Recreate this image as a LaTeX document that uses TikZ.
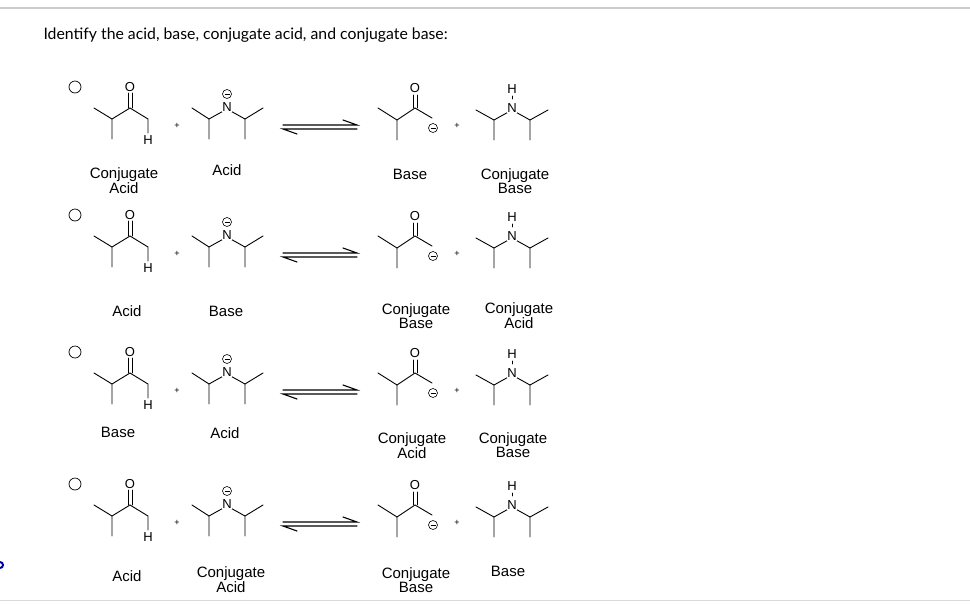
\documentclass[tikz,border=0pt]{standalone}
\usepackage{fontspec}
\setmainfont{Liberation Sans}
\newfontfamily\titlefont{Lato}
\begin{document}
\begin{tikzpicture}[x=1pt,y=-1pt,
  bond/.style={line width=0.9pt,line cap=round},
  atom/.style={inner sep=0.5pt,fill=white,font=\fontsize{13}{13}\selectfont},
  lbl/.style={align=center,font=\fontsize{15}{11.5}\selectfont},
  chg/.style={circle,draw,line width=0.6pt,minimum size=9pt,inner sep=0pt}]
\useasboundingbox (0,0) rectangle (970,603);
\fill[white] (0,0) rectangle (970,603);
\draw[gray!40,line width=1.5pt] (0,8) -- (970,8);
\draw[gray!30,line width=1pt] (0,600) -- (970,600);
\draw[blue!70!black,line width=2pt] (0,568) arc (90:-90:3);
\node[anchor=west,font=\titlefont\fontsize{15.8}{16}\selectfont] (title) at (40,35) {Identify the acid, base, conjugate acid, and conjugate base:};
\newcommand\chgmark[2]{\node[chg] at (#1,#2) {}; \draw[line width=0.6pt] (#1-2.5,#2) -- (#1+2.5,#2);}
\newcommand\mrow[1]{%
\begin{scope}[shift={(0,#1)}]
 \draw[line width=0.7pt] (75,87) circle (6);
 % ketone
 \draw[bond] (94,108) -- (112,119) -- (112,139);
 \draw[bond] (112,119) -- (130,108) -- (148,119) -- (148,133);
 \draw[bond] (128,108) -- (128,93); \draw[bond] (132,108) -- (132,93);
 \node[atom] at (130,87) {O};
 \node[atom] at (148,140) {H};
 \node[font=\fontsize{9}{9}\selectfont] at (177,126) {+};
 % amide anion
 \draw[bond] (192,108) -- (209,119) -- (209,139);
 \draw[bond] (209,119) -- (227,109) -- (245,119) -- (245,139);
 \draw[bond] (245,119) -- (263,108);
 \node[atom] at (227,107) {N};
 \chgmark{227}{94}
 % equilibrium arrows
 \draw[bond,line width=1.1pt] (283,125) -- (357,125) -- (343,120);
 \draw[bond,line width=1.1pt] (357,129) -- (283,129) -- (297,134);
 % enolate
 \draw[bond] (378,108) -- (397,120) -- (397,140);
 \draw[bond] (397,120) -- (415,108) -- (432,118);
 \draw[bond] (413,108) -- (413,95); \draw[bond] (417,108) -- (417,95);
 \node[atom] at (415,88) {O};
 \chgmark{433}{128}
 \node[font=\fontsize{9}{9}\selectfont] at (457,126) {+};
 % amine
 \draw[bond] (476,110) -- (494,120) -- (494,140);
 \draw[bond] (494,120) -- (512,110) -- (530,120) -- (530,140);
 \draw[bond] (530,120) -- (548,110);
 \node[atom] at (512,108) {N};
 \node[atom] at (512,89) {H};
 \draw[bond] (512,96) -- (512,99);
\end{scope}}
\mrow{0}\mrow{128}\mrow{265}\mrow{397}
% labels
\node[lbl] (l11) at (124,181) {Conjugate\\Acid};
\node[lbl] (l12) at (227,170) {Acid};
\node[lbl] (l13) at (410,174) {Base};
\node[lbl] (l14) at (515,181) {Conjugate\\Base};
\node[lbl] (l21) at (127,311) {Acid};
\node[lbl] (l22) at (226,311) {Base};
\node[lbl] (l23) at (416,316) {Conjugate\\Base};
\node[lbl] (l24) at (519,316) {Conjugate\\Acid};
\node[lbl] (l31) at (118,432) {Base};
\node[lbl] (l32) at (225,433) {Acid};
\node[lbl] (l33) at (412,446) {Conjugate\\Acid};
\node[lbl] (l34) at (513,445) {Conjugate\\Base};
\node[lbl] (l41) at (127,576) {Acid};
\node[lbl] (l42) at (231,580) {Conjugate\\Acid};
\node[lbl] (l43) at (416,580) {Conjugate\\Base};
\node[lbl] (l44) at (508,571) {Base};
\end{tikzpicture}
\end{document}
